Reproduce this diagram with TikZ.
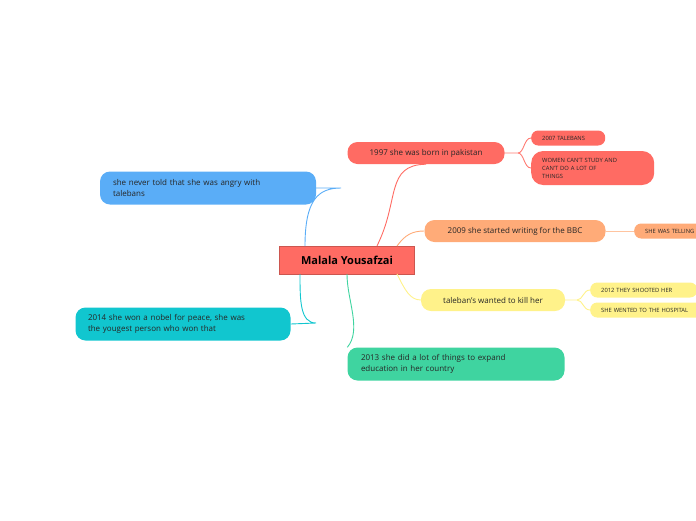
\documentclass[tikz,border=0pt]{standalone}
\usepackage{fontspec}
\setmainfont{Open Sans}
\begin{document}
\begin{tikzpicture}[x=1pt,y=-1pt,
 box/.style={rounded corners=10pt,minimum height=22pt,inner xsep=12pt,font=\fontsize{8}{10.5}\selectfont,text=black!85},
 small/.style={rounded corners=7pt,minimum height=15pt,inner xsep=11pt,font=\fontsize{5.8}{8}\selectfont,text=black!85,align=left},
 con/.style={line width=0.9pt}]
\definecolor{cr}{HTML}{FF6B63}\definecolor{co}{HTML}{FFAB78}\definecolor{cy}{HTML}{FFF28A}
\definecolor{cg}{HTML}{3FD4A0}\definecolor{cb}{HTML}{5AADF7}\definecolor{ct}{HTML}{11C6CF}
\useasboundingbox (0,0) rectangle (696,520);
\clip (0,0) rectangle (696,520);
\node[fill=cr,draw=cr!80!black,line width=0.3pt,minimum width=135pt,minimum height=28pt,font=\bfseries\fontsize{11}{13}\selectfont] (c) at (347,260) {Malala Yousafzai};
\node[box,fill=cr,minimum width=157pt] (a) at (426,153) {1997 she was born in pakistan};
\node[small,fill=cr,anchor=west,text width=52pt] (a1) at (531,138) {2007 TALEBANS};
\node[small,fill=cr,anchor=west,minimum height=34pt,rounded corners=12pt,text width=101pt] (a2) at (531,168) {WOMEN CAN'T STUDY AND\\ CAN'T DO A LOT OF\\ THINGS};
\node[box,fill=co,minimum width=181pt] (b) at (515,231) {2009 she started writing for the BBC};
\node[small,fill=co,anchor=west,text width=80pt] (b1) at (634,231) {SHE WAS TELLING};
\node[small,fill=cy,anchor=west,text width=85pt] (d1) at (590,290) {2012 THEY SHOOTED HER};
\node[small,fill=cy,anchor=west,text width=110pt] (d2) at (590,310) {SHE WENTED TO THE HOSPITAL};
\node[box,fill=cy,minimum width=144pt] (d) at (493,300) {taleban's wanted to kill her};
\node[box,fill=cg,minimum width=217pt,minimum height=33pt,text width=190pt,align=left] (e) at (456,364) {2013 she did a lot of things to expand\\ education in her country};
\node[box,fill=cb,minimum width=216pt,minimum height=33pt,text width=190pt,align=left] (f) at (208,188) {she never told that she was angry with\\ talebans};
\node[box,fill=ct,minimum width=215pt,minimum height=33pt,text width=190pt,align=left] (g) at (183,324) {2014 she won a nobel for peace, she was\\ the yougest person who won that};
\coordinate (fa) at (341,188); \coordinate (ga) at (316,323);
\draw[con,cr] (c.north)++(30,0) .. controls (400,200) and (385,165) .. (a.south);
\draw[con,cr!90] (a.east) -- (518,153) .. controls (524,153) and (524,138) .. (a1.west);
\draw[con,cr!90] (518,153) .. controls (524,153) and (524,168) .. (a2.west);
\draw[con,co] (397,246) .. controls (405,235) and (412,231) .. (b.west);
\draw[con,co!70] (b.east) -- (b1.west);
\draw[con,cy] (397,274) .. controls (405,290) and (410,300) .. (d.west);
\draw[con,cy] (d.east) -- (577,300) .. controls (583,300) and (583,290) .. (d1.west);
\draw[con,cy] (577,300) .. controls (583,300) and (583,310) .. (d2.west);
\draw[con,cg] (c.south) .. controls (347,300) and (362,330) .. (e.north west);
\draw[con,cb] (305,246) .. controls (305,200) and (318,188) .. (fa) -- (f.east);
\draw[con,ct] (300,274) .. controls (300,300) and (300,323) .. (ga) -- (g.east);
\end{tikzpicture}
\end{document}
